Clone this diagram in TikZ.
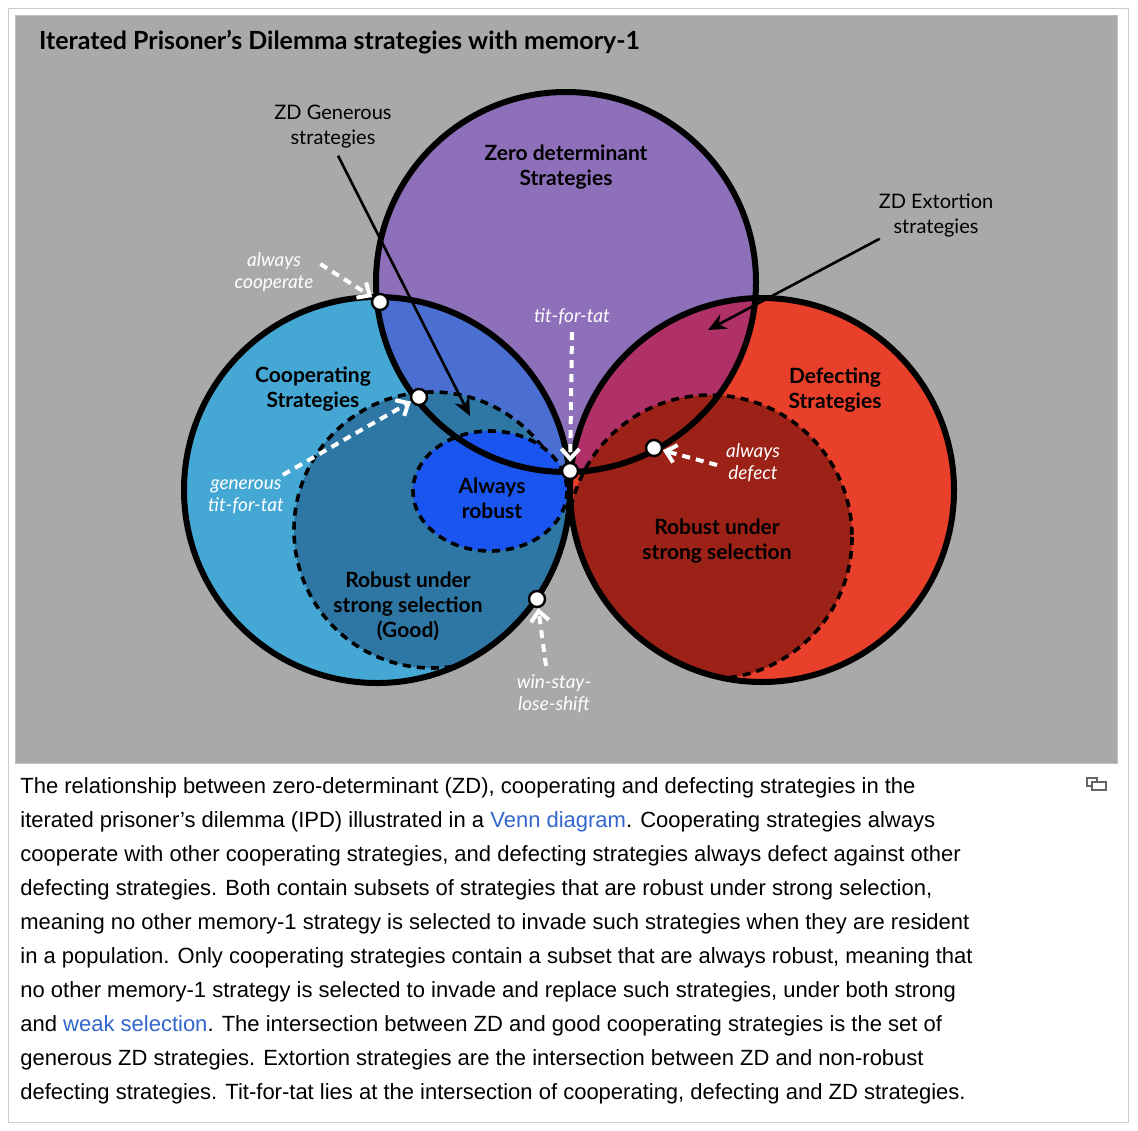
\documentclass[tikz,border=0pt]{standalone}
\usepackage{fontspec}
\setmainfont{Liberation Sans}
\newfontfamily\dfont{Lato}
\usetikzlibrary{arrows.meta}
\definecolor{panel}{HTML}{A9A9A9}
\definecolor{coopc}{HTML}{45A8D4}
\definecolor{defc}{HTML}{E8402A}
\definecolor{zdc}{HTML}{8E6FBA}
\definecolor{zdcoop}{HTML}{4A6FD0}
\definecolor{zddef}{HTML}{B03068}
\definecolor{robc}{HTML}{2E76A4}
\definecolor{robd}{HTML}{9C2116}
\definecolor{alw}{HTML}{1A55F0}
\definecolor{linkc}{HTML}{3366CC}
\begin{document}
\begin{tikzpicture}[x=0.5pt,y=-0.5pt,
  circ/.style={line width=3pt,draw=black},
  dsh/.style={line width=1.8pt,draw=black,dash pattern=on 4pt off 3pt},
  pt/.style={circle,fill=white,draw=black,line width=1.2pt,inner sep=0pt,minimum size=8pt},
  wl/.style={text=white,font=\dfont\itshape\fontsize{9.5}{11}\selectfont,align=center},
  bl/.style={font=\dfont\bfseries\fontsize{10.5}{12.5}\selectfont,align=center},
  nl/.style={font=\dfont\fontsize{10}{12.5}\selectfont,align=center},
  warr/.style={draw=white,line width=2pt,dash pattern=on 4pt off 3pt,-{Straight Barb[length=5pt,width=9pt]}},
  barr/.style={draw=black,line width=1.3pt,-{Stealth[length=9pt,width=8pt]}},
  captxt/.style={anchor=west,font=\fontsize{11}{13}\selectfont,inner sep=0pt}]
\fill[white] (0,0) rectangle (1138,1130);
\filldraw[fill=white,draw=black!20] (8,8) rectangle (1128,1122);
\filldraw[fill=panel,draw=black!25] (15,15) rectangle (1117,763);
\node[anchor=west,font=\dfont\bfseries\fontsize{12.5}{14}\selectfont] (title) at (32,42) {Iterated Prisoner’s Dilemma strategies with memory-1};
% fills
\fill[coopc] (377,490) circle (193);
\fill[defc] (762,490) circle (192);
\fill[zdc] (566,282) circle (190);
\begin{scope}\clip (566,282) circle (190); \fill[zdcoop] (377,490) circle (193); \fill[zddef] (762,490) circle (192);\end{scope}
\begin{scope}\clip (377,490) circle (193);
  \fill[robc] (432,530) circle (138);
  \draw[dsh] (432,530) circle (138);
\end{scope}
\begin{scope}\clip (762,490) circle (192);
  \fill[robd] (710,537) circle (142);
  \draw[dsh] (710,537) circle (142);
\end{scope}
\filldraw[fill=alw,dsh] (490,491) ellipse (77 and 60);
\draw[circ] (377,490) circle (193);
\draw[circ] (762,490) circle (192);
\draw[circ] (566,282) circle (190);
% points
\node[pt] (pac) at (380,302) {};
\node[pt] (pgt) at (419,397) {};
\node[pt] (ptft) at (570,471) {};
\node[pt] (pad) at (654,448) {};
\node[pt] (pws) at (537,599) {};
% labels
\node[bl] (zd) at (566,167) {Zero determinant\\Strategies};
\node[bl] (co) at (313,389) {Cooperating\\Strategies};
\node[bl] (de) at (835,390) {Defecting\\Strategies};
\node[bl] (ar) at (492,498) {Always\\robust};
\node[bl] (rg) at (408,606) {Robust under\\strong selection\\(Good)};
\node[bl] (rd) at (717,541) {Robust under\\strong selection};
\node[nl] (zdg) at (333,127) {ZD Generous\\strategies};
\node[nl] (zde) at (936,215) {ZD Extortion\\strategies};
\node[wl] (lac) at (274,272) {always\\cooperate};
\node[wl] (ltft) at (572,317) {tit-for-tat};
\node[wl] (lgt) at (246,497) {generous\\tit-for-tat};
\node[wl] (lad) at (753,463) {always\\defect};
\node[wl] (lws) at (554,694) {win-stay-\\lose-shift};
\coordinate (gend) at (470,416);
\coordinate (eend) at (708,330);
% arrows
\draw[barr] (zdg.south) ++(5,0) -- (gend);
\draw[barr] (zde.south west) ++(8,-5) -- (eend);
\draw[warr] (lac.east) ++(0,-8) -- (pac);
\draw[warr] (lgt.north east) ++(-8,2) -- (pgt);
\draw[warr] (ltft.south) -- (ptft);
\draw[warr] (lad.west) ++(-2,2) -- (pad);
\draw[warr] (lws.north) ++(-8,-2) -- (pws);
% icon
\draw[black!60,line width=0.6pt] (1087,778) rectangle (1097,786);
\draw[black!60,line width=0.6pt,fill=white] (1092,782) rectangle (1106,790);
% caption
\node[captxt] (c1) at (20,788) {The relationship between zero-determinant (ZD), cooperating and defecting strategies in the};
\node[captxt] (c2) at (20,822) {iterated prisoner's dilemma (IPD) illustrated in a \textcolor{linkc}{Venn diagram}. Cooperating strategies always};
\node[captxt] (c3) at (20,856) {cooperate with other cooperating strategies, and defecting strategies always defect against other};
\node[captxt] (c4) at (20,890) {defecting strategies. Both contain subsets of strategies that are robust under strong selection,};
\node[captxt] (c5) at (20,924) {meaning no other memory-1 strategy is selected to invade such strategies when they are resident};
\node[captxt] (c6) at (20,958) {in a population. Only cooperating strategies contain a subset that are always robust, meaning that};
\node[captxt] (c7) at (20,992) {no other memory-1 strategy is selected to invade and replace such strategies, under both strong};
\node[captxt] (c8) at (20,1026) {and \textcolor{linkc}{weak selection}. The intersection between ZD and good cooperating strategies is the set of};
\node[captxt] (c9) at (20,1060) {generous ZD strategies. Extortion strategies are the intersection between ZD and non-robust};
\node[captxt] (c10) at (20,1094) {defecting strategies. Tit-for-tat lies at the intersection of cooperating, defecting and ZD strategies.};
\end{tikzpicture}
\end{document}
